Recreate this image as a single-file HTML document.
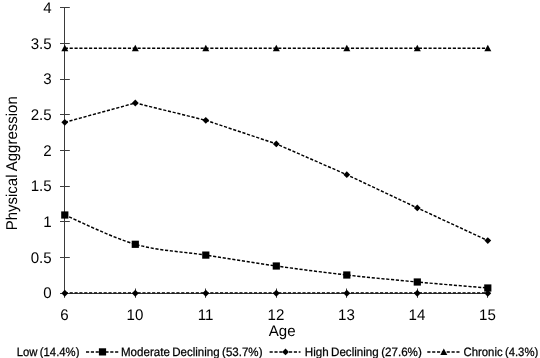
<!DOCTYPE html>
<html><head><meta charset="utf-8"><title>Physical Aggression by Age</title>
<style>
html,body{margin:0;padding:0;background:#fff;}
body{width:540px;height:358px;overflow:hidden;position:relative;font-family:"Liberation Sans",sans-serif;}
svg{position:absolute;left:0;top:0;}
text{font-family:"Liberation Sans",sans-serif;fill:#000;text-rendering:geometricPrecision;}
.ax{font-size:15.4px;}
.lg{font-size:12.1px;word-spacing:-0.9px;stroke:#000;stroke-width:0.25px;}
.ln{fill:none;stroke:#000;stroke-width:1.45;stroke-dasharray:3.15 1.7;}
</style></head><body>
<svg width="540" height="358" viewBox="0 0 540 358">
<rect width="540" height="358" fill="#fff"/>

<g fill="none"><path d="M64.5,7.7V293.2" stroke="#3a3a3a" stroke-width="1"/><path d="M64.5,293.5H487.8" stroke="#383838" stroke-width="1"/>
<g stroke="#3c3c3c" stroke-width="1">
<path d="M60,7.5H69.8"/>
<path d="M60,43.5H69.8"/>
<path d="M60,79.5H69.8"/>
<path d="M60,114.5H69.8"/>
<path d="M60,150.5H69.8"/>
<path d="M60,186.5H69.8"/>
<path d="M60,221.5H69.8"/>
<path d="M60,257.5H69.8"/>
<path d="M60,293.5H69.8"/>
<path d="M64.5,288.5V297.8"/>
<path d="M135.5,288.5V297.8"/>
<path d="M205.5,288.5V297.8"/>
<path d="M276.5,288.5V297.8"/>
<path d="M346.5,288.5V297.8"/>
<path d="M417.5,288.5V297.8"/>
<path d="M487.5,288.5V297.8"/>
</g></g>
<text class="ax" transform="translate(51.7,12.8) scale(0.98,1)" text-anchor="end">4</text>
<text class="ax" transform="translate(51.7,48.5) scale(0.98,1)" text-anchor="end">3.5</text>
<text class="ax" transform="translate(51.7,84.2) scale(0.98,1)" text-anchor="end">3</text>
<text class="ax" transform="translate(51.7,119.9) scale(0.98,1)" text-anchor="end">2.5</text>
<text class="ax" transform="translate(51.7,155.6) scale(0.98,1)" text-anchor="end">2</text>
<text class="ax" transform="translate(51.7,191.2) scale(0.98,1)" text-anchor="end">1.5</text>
<text class="ax" transform="translate(51.7,227.0) scale(0.98,1)" text-anchor="end">1</text>
<text class="ax" transform="translate(51.7,262.7) scale(0.98,1)" text-anchor="end">0.5</text>
<text class="ax" transform="translate(51.7,298.4) scale(0.98,1)" text-anchor="end">0</text>
<text class="ax" transform="translate(64.5,319.8) scale(0.98,1)" text-anchor="middle">6</text>
<text class="ax" transform="translate(135.0,319.8) scale(0.98,1)" text-anchor="middle">10</text>
<text class="ax" transform="translate(205.5,319.8) scale(0.98,1)" text-anchor="middle">11</text>
<text class="ax" transform="translate(276.0,319.8) scale(0.98,1)" text-anchor="middle">12</text>
<text class="ax" transform="translate(346.5,319.8) scale(0.98,1)" text-anchor="middle">13</text>
<text class="ax" transform="translate(417.0,319.8) scale(0.98,1)" text-anchor="middle">14</text>
<text class="ax" transform="translate(487.5,319.8) scale(0.98,1)" text-anchor="middle">15</text>
<text class="ax" transform="translate(282.2,336.3) scale(0.98,1)" text-anchor="middle">Age</text>
<text class="ax" transform="translate(17.2,163.3) rotate(-90) scale(0.973,1.017)" text-anchor="middle">Physical Aggression</text>
<polyline class="ln" stroke-opacity=".78" points="64.8,292.8 135.3,292.8 205.8,292.8 276.3,292.8 346.8,292.8 417.3,292.8 487.8,292.8"/>
<g fill="#000"><path d="M61.4,293.2L64.8,289.7L68.2,293.2L64.8,296.8Z"/><path d="M131.9,293.2L135.3,289.7L138.7,293.2L135.3,296.8Z"/><path d="M202.4,293.2L205.8,289.7L209.2,293.2L205.8,296.8Z"/><path d="M272.9,293.2L276.3,289.7L279.7,293.2L276.3,296.8Z"/><path d="M343.4,293.2L346.8,289.7L350.2,293.2L346.8,296.8Z"/><path d="M413.9,293.2L417.3,289.7L420.7,293.2L417.3,296.8Z"/><path d="M484.4,293.2L487.8,289.7L491.2,293.2L487.8,296.8Z"/></g>
<path class="ln" d="M64.8,215.0C76.5,219.9 111.8,237.6 135.3,244.3C158.8,251.0 182.3,251.5 205.8,255.1C229.3,258.7 252.8,262.7 276.3,266.0C299.8,269.3 323.3,272.3 346.8,275.0C370.3,277.7 393.8,279.8 417.3,282.0C440.8,284.2 476.1,287.0 487.8,288.0"/>
<g fill="#000"><rect x="61.2" y="211.4" width="7.2" height="7.2"/><rect x="131.7" y="240.7" width="7.2" height="7.2"/><rect x="202.2" y="251.5" width="7.2" height="7.2"/><rect x="272.7" y="262.4" width="7.2" height="7.2"/><rect x="343.2" y="271.4" width="7.2" height="7.2"/><rect x="413.7" y="278.4" width="7.2" height="7.2"/><rect x="484.2" y="284.4" width="7.2" height="7.2"/></g>
<polyline class="ln" points="64.8,122.3 135.3,103.0 205.8,120.3 276.3,143.9 346.8,174.7 417.3,207.9 487.8,240.6"/>
<g fill="#000"><path d="M61.4,122.3L64.8,118.9L68.2,122.3L64.8,125.7Z"/><path d="M131.9,103.0L135.3,99.6L138.7,103.0L135.3,106.4Z"/><path d="M202.4,120.3L205.8,116.9L209.2,120.3L205.8,123.7Z"/><path d="M272.9,143.9L276.3,140.5L279.7,143.9L276.3,147.3Z"/><path d="M343.4,174.7L346.8,171.3L350.2,174.7L346.8,178.1Z"/><path d="M413.9,207.9L417.3,204.5L420.7,207.9L417.3,211.3Z"/><path d="M484.4,240.6L487.8,237.2L491.2,240.6L487.8,244.0Z"/></g>
<polyline class="ln" points="64.8,48.2 135.3,48.2 205.8,48.2 276.3,48.2 346.8,48.2 417.3,48.2 487.8,48.2"/>
<g fill="#000"><path d="M61.3,51.2L68.3,51.2L64.8,44.8Z"/><path d="M131.8,51.2L138.8,51.2L135.3,44.8Z"/><path d="M202.3,51.2L209.3,51.2L205.8,44.8Z"/><path d="M272.8,51.2L279.8,51.2L276.3,44.8Z"/><path d="M343.3,51.2L350.3,51.2L346.8,44.8Z"/><path d="M413.8,51.2L420.8,51.2L417.3,44.8Z"/><path d="M484.3,51.2L491.3,51.2L487.8,44.8Z"/></g>
<text class="lg" x="16.8" y="355.7" textLength="62.6" lengthAdjust="spacingAndGlyphs">Low (14.4%)</text>
<path class="ln" d="M86,351.9H119"/>
<g fill="#000"><rect x="98.9" y="348.3" width="7.2" height="7.2"/></g>
<text class="lg" x="121" y="355.7" textLength="141.5" lengthAdjust="spacingAndGlyphs">Moderate Declining (53.7%)</text>
<path class="ln" d="M269.6,351.9H300.5"/>
<g fill="#000"><path d="M282.1,351.9L285.5,348.5L288.9,351.9L285.5,355.3Z"/></g>
<text class="lg" x="304.8" y="355.7" textLength="117" lengthAdjust="spacingAndGlyphs">High Declining (27.6%)</text>
<path class="ln" d="M427.3,351.9H459.5"/>
<g fill="#000"><path d="M440.3,354.9L447.3,354.9L443.8,348.4Z"/></g>
<text class="lg" x="463.5" y="355.7" textLength="74.8" lengthAdjust="spacingAndGlyphs">Chronic (4.3%)</text>
</svg></body></html>
